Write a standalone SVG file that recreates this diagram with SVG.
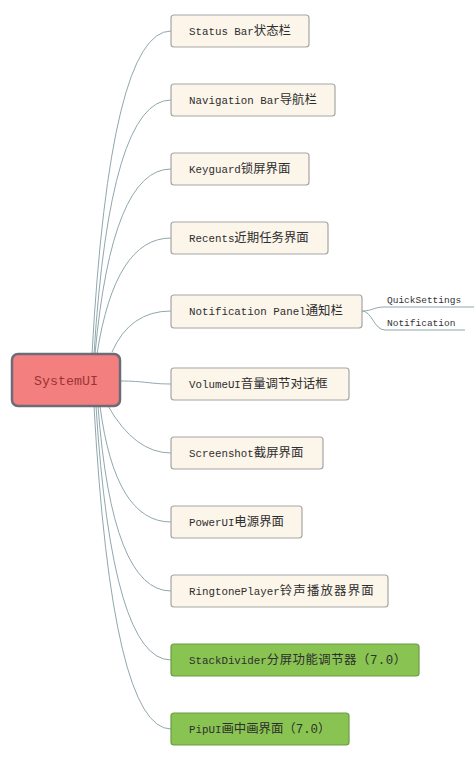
<svg xmlns="http://www.w3.org/2000/svg" width="474" height="759" viewBox="0 0 474 759">
<style>
.bg{fill:#ffffff}
.node rect{fill:#fcf5ea;stroke:#a6a6a6;stroke-width:1.2}
.green rect{fill:#89c452;stroke:#6c9c44;stroke-width:1.2}
.node text,.green text{font-family:"Liberation Mono","Noto Sans CJK SC",monospace;font-size:10.8px;fill:#2e2e2e}
.c{font-size:12.4px}
.root rect{fill:#f47f7f;stroke:#6c6c78;stroke-width:2.5}
.root text{font-family:"Liberation Mono",monospace;font-size:13.3px;fill:#9a3434;text-anchor:middle}
.sub{font-family:"Liberation Mono",monospace;font-size:9.5px;fill:#333333}
#connectors path{fill:none;stroke:#8fa8ad;stroke-width:1}
</style>
<rect class="bg" x="0" y="0" width="474" height="759"/>
<g id="connectors">
<path d="M92 354 Q110 31 171 31"/>
<path d="M94 354 Q110 100 171 100"/>
<path d="M95 354 Q112 169 171 169"/>
<path d="M97 354 Q115 238 171 238"/>
<path d="M112 352 Q130 311 171 311"/>
<path d="M120 381 C145 381 150 384 171 384"/>
<path d="M108 406 Q135 453 171 453"/>
<path d="M100 406 Q115 522 171 522"/>
<path d="M98 406 Q112 591 171 591"/>
<path d="M96 406 Q112 660 171 660"/>
<path d="M94 406 Q112 729 171 729"/>
<path d="M362 311 C372 311 374 307 384 307 L474 307"/>
<path d="M362 311 C372 311 374 330 385 330 L465 330"/>
</g>
<g id="root" class="root"><rect x="12" y="354" width="108" height="52" rx="6"/><text x="66" y="385">SystemUI</text></g>
<g id="statusbar" class="node"><rect x="171" y="15" width="138" height="32" rx="3"/><text x="189" y="35">Status Bar<tspan class="c">状态栏</tspan></text></g>
<g id="navbar" class="node"><rect x="171" y="84" width="164" height="32" rx="3"/><text x="189" y="104">Navigation Bar<tspan class="c">导航栏</tspan></text></g>
<g id="keyguard" class="node"><rect x="171" y="153" width="138" height="32" rx="3"/><text x="189" y="173">Keyguard<tspan class="c">锁屏界面</tspan></text></g>
<g id="recents" class="node"><rect x="171" y="222" width="157" height="32" rx="3"/><text x="189" y="242">Recents<tspan class="c">近期任务界面</tspan></text></g>
<g id="notifpanel" class="node"><rect x="171" y="295" width="191" height="33" rx="3"/><text x="189" y="315">Notification Panel<tspan class="c">通知栏</tspan></text></g>
<g id="quicksettings"><text class="sub" x="387" y="303">QuickSettings</text></g>
<g id="notification"><text class="sub" x="387" y="326">Notification</text></g>
<g id="volumeui" class="node"><rect x="171" y="368" width="178" height="32" rx="3"/><text x="189" y="388">VolumeUI<tspan class="c">音量调节对话框</tspan></text></g>
<g id="screenshot" class="node"><rect x="171" y="437" width="152" height="32" rx="3"/><text x="189" y="457">Screenshot<tspan class="c">截屏界面</tspan></text></g>
<g id="powerui" class="node"><rect x="171" y="506" width="131" height="32" rx="3"/><text x="189" y="526">PowerUI<tspan class="c">电源界面</tspan></text></g>
<g id="ringtone" class="node"><rect x="171" y="575" width="217" height="32" rx="3"/><text x="189" y="595">RingtonePlayer<tspan class="c" letter-spacing="1.2">铃声播放器界面</tspan></text></g>
<g id="stackdivider" class="green"><rect x="171" y="644" width="248" height="32" rx="3"/><text x="189" y="664">StackDivider<tspan class="c" letter-spacing="0.5">分屏功能调节器（7.0）</tspan></text></g>
<g id="pipui" class="green"><rect x="171" y="713" width="178" height="32" rx="3"/><text x="189" y="733">PipUI<tspan class="c">画中画界面（7.0）</tspan></text></g>
</svg>
